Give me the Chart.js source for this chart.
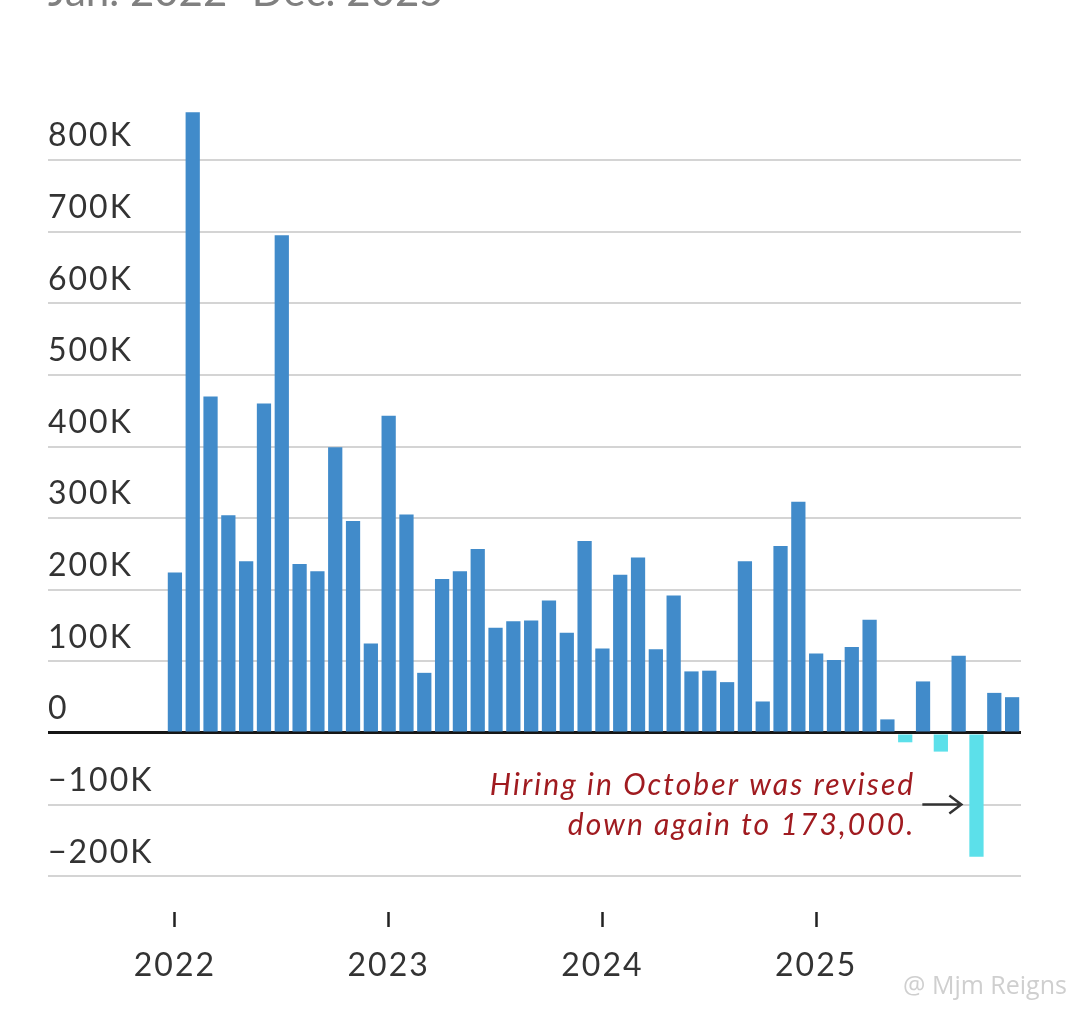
<!DOCTYPE html>
<html>
<head>
<meta charset="utf-8">
<script src="https://cdn.jsdelivr.net/npm/chart.js@4.4.1/dist/chart.umd.min.js"></script>
<style>
  body { margin: 0; background: #fff; }
  #wrap { position: relative; width: 1074px; height: 1010px; overflow: hidden; }
  #mark {
    position: absolute; left: 903px; top: 967px;
    font: 25px "Open Sans", sans-serif; color: #cfcfcf;
  }
</style>
</head>
<body>
<div id="wrap">
  <canvas id="jobsChart"></canvas>
  <div id="mark">@ Mjm Reigns</div>
</div>
<script>
// monthly payroll change, thousands of jobs, Jan 2022 - Dec 2025
const years = ["2022", "2023", "2024", "2025"];
const monthNames = ["Jan", "Feb", "Mar", "Apr", "May", "Jun", "Jul", "Aug", "Sep", "Oct", "Nov", "Dec"];
const months = years.flatMap((y) => monthNames.map((m) => m + " " + y));

const jobs2022 = [224, 867, 470, 304, 240, 460, 695, 236, 226, 399, 296, 125];
const jobs2023 = [443, 305, 84, 215, 226, 257, 147, 156, 157, 185, 140, 268];
const jobs2024 = [118, 221, 245, 117, 192, 86, 87, 71, 240, 44, 261, 323];
const jobs2025 = [111, 102, 120, 158, 19, -13, 72, -26, 108, -173, 56, 50];
const jobs = [...jobs2022, ...jobs2023, ...jobs2024, ...jobs2025];

const yTicks = [-200, -100, 0, 100, 200, 300, 400, 500, 600, 700, 800];

const subtitle = "Jan. 2022\u2013Dec. 2025";
const noteLines = ["Hiring in October was revised", "down again to 173,000."];
const noteMonth = "Oct 2025";
const noteLevel = -100;

const BLUE = "#418bca";
const CYAN = "#5ce0ea";
const FONT = "Lato, 'Open Sans', sans-serif";

const fmtK = (v) => {
  if (v === 0) return "0";
  return (v < 0 ? "\u2212" : "") + Math.abs(v) + "K";
};

// subtitle (cut off at the top) and the October note with its arrow
const extrasPlugin = {
  id: "extras",
  beforeDraw(chart) {
    // Lato runs narrower than the original face, so space the axis labels out a bit
    chart.ctx.letterSpacing = "2px";
  },
  afterDraw(chart) {
    const ctx = chart.ctx;
    const x = chart.scales.x;
    const y = chart.scales.y;
    ctx.save();
    ctx.letterSpacing = "0px";
    ctx.fillStyle = "#808080";
    ctx.font = "42px " + FONT;
    ctx.textBaseline = "alphabetic";
    ctx.fillText(subtitle, 48, 6);

    const i = months.indexOf(noteMonth);
    const barHalf = (x.width / months.length) * 0.8 / 2;
    const tipX = x.getPixelForValue(i) - barHalf - 8;
    const startX = tipX - 39;
    const ay = y.getPixelForValue(noteLevel);

    ctx.strokeStyle = "#333";
    ctx.lineWidth = 2.5;
    ctx.beginPath();
    ctx.moveTo(startX, ay);
    ctx.lineTo(tipX, ay);
    ctx.moveTo(tipX - 12, ay - 9);
    ctx.lineTo(tipX, ay);
    ctx.lineTo(tipX - 12, ay + 9);
    ctx.stroke();

    ctx.fillStyle = "#a01b20";
    ctx.font = "italic 30px " + FONT;
    ctx.letterSpacing = "2.1px";
    ctx.textAlign = "right";
    ctx.fillText(noteLines[0], startX - 7, ay - 10);
    ctx.fillText(noteLines[1], startX - 7, ay + 30.5);
    ctx.restore();
    ctx.letterSpacing = "0px";
  },
};

new Chart(document.getElementById("jobsChart"), {
  type: "bar",
  data: {
    labels: months,
    datasets: [
      {
        data: jobs,
        backgroundColor: (c) => (c.raw < 0 ? CYAN : BLUE),
        barPercentage: 0.8,
        categoryPercentage: 1,
      },
    ],
  },
  options: {
    responsive: true,
    maintainAspectRatio: false,
    animation: false,
    layout: { padding: { left: 48, right: 53, top: 110, bottom: 0 } },
    plugins: { legend: { display: false }, tooltip: { enabled: false } },
    scales: {
      x: {
        grid: {
          offset: false,
          drawOnChartArea: false,
          tickLength: 15,
          tickWidth: 2.5,
          tickColor: (c) => (c.index % 12 === 0 ? "#222" : "rgba(0,0,0,0)"),
        },
        border: { display: false },
        ticks: {
          autoSkip: false,
          maxRotation: 0,
          padding: 19,
          color: "#333",
          font: { family: FONT, size: 32 },
          callback: (v, i) => (i % 12 === 0 ? months[i].slice(4) : ""),
        },
        afterFit: (s) => { s.height = 98; },
      },
      y: {
        min: -250,
        max: 870,
        bounds: "data",
        grid: {
          tickLength: 118,
          color: (c) => (c.tick && c.tick.value === 0 ? "#161616" : "#d4d4d4"),
          lineWidth: (c) => (c.tick && c.tick.value === 0 ? 3 : 2),
        },
        border: { display: false },
        afterBuildTicks: (s) => { s.ticks = yTicks.map((v) => ({ value: v })); },
        ticks: {
          crossAlign: "far",
          labelOffset: -24,
          color: "#333",
          font: { family: FONT, size: 32 },
          callback: (v) => fmtK(v),
        },
        afterFit: (s) => { s.width = 118; },
      },
    },
  },
  plugins: [extrasPlugin],
});
</script>
</body>
</html>
